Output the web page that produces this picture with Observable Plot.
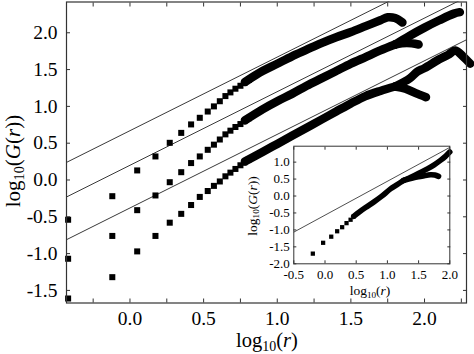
<!DOCTYPE html>
<html>
<head>
<meta charset="utf-8">
<script src="https://cdn.jsdelivr.net/npm/d3@7"></script>
<script src="https://cdn.jsdelivr.net/npm/@observablehq/plot@0.6"></script>
<style>
  html, body { margin: 0; padding: 0; background: white; }
  #wrap { position: relative; width: 474px; height: 354px; }
  #wrap svg { position: absolute; }
</style>
</head>
<body>
<div id="wrap"></div>
<script>
// ---------- main panel data ----------
const discreteX = [-0.42, -0.12, 0.049, 0.173, 0.27, 0.348, 0.415, 0.474, 0.528, 0.57, 0.61, 0.648, 0.682, 0.716, 0.75, 0.777, 0.807];
const discreteTop = [-0.54, -0.22, 0.13, 0.32, 0.505, 0.64, 0.755, 0.845, 0.93, 1.0, 1.07, 1.14, 1.19, 1.24, 1.28, 1.32, 1.36];
const discreteMid = [-1.07, -0.76, -0.41, -0.21, -0.03, 0.106, 0.23, 0.32, 0.41, 0.48, 0.55, 0.62, 0.67, 0.72, 0.76, 0.80, 0.84];
const discreteBot = [-1.61, -1.32, -0.97, -0.76, -0.58, -0.46, -0.34, -0.23, -0.15, -0.08, -0.02, 0.05, 0.10, 0.15, 0.20, 0.24, 0.28];

const topBandX = [0.78, 0.9, 1.0, 1.1, 1.2, 1.3, 1.4, 1.5, 1.6, 1.7, 1.75, 1.8, 1.85];
const topBandY = [1.33, 1.48, 1.58, 1.68, 1.77, 1.86, 1.94, 2.01, 2.09, 2.17, 2.21, 2.20, 2.14];

const midBandX = [0.78, 0.9, 1.0, 1.1, 1.2, 1.3, 1.4, 1.5, 1.6, 1.7, 1.8];
const midBandY = [0.81, 0.96, 1.07, 1.17, 1.28, 1.38, 1.48, 1.58, 1.67, 1.76, 1.84];
const midUpperX = [1.8, 1.9, 2.0, 2.1, 2.2, 2.24];
const midUpperY = [1.84, 1.96, 2.07, 2.17, 2.26, 2.28];
const midLowerX = [1.8, 1.88, 1.96];
const midLowerY = [1.84, 1.86, 1.84];

const botBandX = [0.78, 0.9, 1.0, 1.1, 1.2, 1.3, 1.4, 1.5, 1.6, 1.7, 1.8];
const botBandY = [0.25, 0.38, 0.49, 0.60, 0.71, 0.82, 0.93, 1.04, 1.14, 1.21, 1.27];
const botUpperX = [1.8, 1.9, 1.95, 2.0, 2.1, 2.16, 2.21, 2.26, 2.31];
const botUpperY = [1.27, 1.38, 1.47, 1.52, 1.64, 1.70, 1.76, 1.68, 1.58];
const botLowerX = [1.8, 1.87, 1.94, 2.01];
const botLowerY = [1.27, 1.24, 1.18, 1.125];

// reference lines (end points)
const refLineX = [-0.45, 2.3];
const refLineTop = [0.22, 2.97];
const refLineMid = [-0.25, 2.50];
const refLineBot = [-0.83, 1.92];

const mainXTickLabels = [0.0, 0.5, 1.0, 1.5, 2.0];
const mainXTicks = [-0.25, 0.0, 0.25, 0.5, 0.75, 1.0, 1.25, 1.5, 1.75, 2.0, 2.25];
const mainYTickLabels = [-1.5, -1.0, -0.5, 0.0, 0.5, 1.0, 1.5, 2.0];

// ---------- inset data ----------
const insetDotX = [-0.195, -0.03, 0.10, 0.195, 0.275, 0.345, 0.41, 0.46];
const insetDotY = [-1.70, -1.38, -1.20, -1.04, -0.92, -0.80, -0.70, -0.60];
const insetBandX = [0.46, 0.55, 0.65, 0.78, 0.9, 1.05, 1.15, 1.26];
const insetBandY = [-0.60, -0.47, -0.34, -0.18, -0.02, 0.21, 0.33, 0.46];
const insetUpperX = [1.26, 1.4, 1.52, 1.64, 1.75, 1.85, 1.93, 2.0];
const insetUpperY = [0.46, 0.58, 0.69, 0.80, 0.92, 1.05, 1.17, 1.30];
const insetLowerX = [1.26, 1.42, 1.55, 1.69, 1.76, 1.82];
const insetLowerY = [0.46, 0.54, 0.58, 0.63, 0.62, 0.58];
const insetRefX = [-0.5, 2.0];
const insetRefY = [-1.065, 1.435];
const insetXTickLabels = [-0.5, 0.0, 0.5, 1.0, 1.5, 2.0];
const insetYTickLabels = [-2.0, -1.5, -1.0, -0.5, 0.0, 0.5, 1.0];

// ---------- helpers ----------
const zip = (xs, ys, extra = {}) => xs.map((x, i) => ({x, y: ys[i], ...extra}));
const fmt = d => d.toFixed(1);
const FONT = "Liberation Serif";

const discrete = [
  ...zip(discreteX, discreteTop),
  ...zip(discreteX, discreteMid),
  ...zip(discreteX, discreteBot)
];
const bands = [
  ...zip(topBandX, topBandY, {s: "top"}),
  ...zip(midBandX, midBandY, {s: "mid"}),
  ...zip(midUpperX, midUpperY, {s: "midU"}),
  ...zip(midLowerX, midLowerY, {s: "midL"}),
  ...zip(botBandX, botBandY, {s: "bot"}),
  ...zip(botUpperX, botUpperY, {s: "botU"}),
  ...zip(botLowerX, botLowerY, {s: "botL"})
];
const refs = [
  ...zip(refLineX, refLineTop, {s: "t"}),
  ...zip(refLineX, refLineMid, {s: "m"}),
  ...zip(refLineX, refLineBot, {s: "b"})
];

const main = Plot.plot({
  width: 474, height: 354,
  marginLeft: 66, marginRight: 8, marginTop: 1.5, marginBottom: 51.5,
  style: {fontFamily: FONT, fontSize: "19.5px", background: "transparent", color: "black", overflow: "visible"},
  x: {domain: [-0.431, 2.285]},
  y: {domain: [-1.671, 2.418]},
  marks: [
    Plot.line(refs, {x: "x", y: "y", z: "s", stroke: "#222", strokeWidth: 0.9, clip: true}),
    Plot.line(bands, {x: "x", y: "y", z: "s", stroke: "black", strokeWidth: 8.5, strokeLinecap: "round", strokeLinejoin: "round", curve: "catmull-rom"}),
    Plot.dot(discrete, {x: "x", y: "y", symbol: "square", r: 3.4, fill: "black", stroke: "none"}),
    Plot.frame({stroke: "#333", strokeWidth: 1.2}),
    Plot.axisX(mainXTickLabels, {anchor: "bottom", tickSize: 0, tickPadding: 8, tickFormat: fmt, label: null}),
    Plot.axisX(mainXTicks, {anchor: "bottom", tickSize: -4, tickFormat: () => "", label: null, stroke: "#333"}),
    Plot.axisX(mainXTicks, {anchor: "top", tickSize: -4, tickFormat: () => "", label: null, stroke: "#333"}),
    Plot.axisY(mainYTickLabels, {anchor: "left", tickSize: 0, tickPadding: 9, tickFormat: fmt, label: null}),
    Plot.axisY(mainYTickLabels, {anchor: "left", tickSize: -4, tickFormat: () => "", label: null, stroke: "#333"}),
    Plot.axisY(mainYTickLabels, {anchor: "right", tickSize: -4, tickFormat: () => "", label: null, stroke: "#333"})
  ]
});
main.style.left = "0px"; main.style.top = "0px";

const inset = Plot.plot({
  width: 220, height: 160,
  marginLeft: 53.3, marginRight: 10.7, marginTop: 5.7, marginBottom: 36.7,
  style: {fontFamily: FONT, fontSize: "13px", background: "transparent", color: "black", overflow: "visible"},
  x: {domain: [-0.5, 2.0]},
  y: {domain: [-2.0, 1.47]},
  marks: [
    Plot.frame({fill: "white", stroke: "none"}),
    Plot.line(zip(insetRefX, insetRefY), {x: "x", y: "y", stroke: "#222", strokeWidth: 0.8, clip: true}),
    Plot.line([
      ...zip(insetBandX, insetBandY, {s: "a"}),
      ...zip(insetUpperX, insetUpperY, {s: "u"}),
      ...zip(insetLowerX, insetLowerY, {s: "l"})
    ], {x: "x", y: "y", z: "s", stroke: "black", strokeWidth: 5.5, strokeLinecap: "round", strokeLinejoin: "round", curve: "catmull-rom"}),
    Plot.dot(zip(insetDotX, insetDotY), {x: "x", y: "y", symbol: "square", r: 2.4, fill: "black", stroke: "none"}),
    Plot.frame({stroke: "#333", strokeWidth: 1}),
    Plot.axisX(insetXTickLabels, {anchor: "bottom", tickSize: 0, tickPadding: 6, tickFormat: fmt, label: null}),
    Plot.axisX(insetXTickLabels, {anchor: "bottom", tickSize: -3, tickFormat: () => "", label: null, stroke: "#333"}),
    Plot.axisX(insetXTickLabels, {anchor: "top", tickSize: -3, tickFormat: () => "", label: null, stroke: "#333"}),
    Plot.axisY(insetYTickLabels, {anchor: "left", tickSize: 0, tickPadding: 4, tickFormat: fmt, label: null}),
    Plot.axisY(insetYTickLabels, {anchor: "left", tickSize: -3, tickFormat: () => "", label: null, stroke: "#333"}),
    Plot.axisY(insetYTickLabels, {anchor: "right", tickSize: -3, tickFormat: () => "", label: null, stroke: "#333"})
  ]
});
inset.style.left = "240px"; inset.style.top = "140px";

const wrap = document.getElementById("wrap");
wrap.appendChild(main);
wrap.appendChild(inset);

// ---------- rich text labels ----------
function richLabel(svg, {x, y, rotate = 0, size, parts}) {
  const t = d3.select(svg).append("text")
    .attr("transform", `translate(${x},${y}) rotate(${rotate})`)
    .attr("text-anchor", "middle")
    .attr("font-family", FONT)
    .attr("font-size", size)
    .attr("fill", "black");
  const shift = size * 0.2;
  parts.forEach(([txt, kind]) => {
    const ts = t.append("tspan").text(txt);
    if (kind === "i") ts.attr("font-style", "italic");
    if (kind === "sub") ts.attr("font-size", size * 0.68).attr("dy", shift);
    if (kind === "after") ts.attr("dy", -shift);
  });
}
const gLabel = [["log"], ["10", "sub"], ["(", "after"], ["G", "i"], ["("], ["r", "i"], ["))"]];
const rLabel = [["log"], ["10", "sub"], ["(", "after"], ["r", "i"], [")"]];

richLabel(main, {x: 267, y: 347, size: 20.5, parts: rLabel});
richLabel(main, {x: 20, y: 161, rotate: -90, size: 21, parts: gLabel});
richLabel(inset, {x: 130, y: 155, size: 13.5, parts: rLabel});
richLabel(inset, {x: 16.5, y: 66, rotate: -90, size: 13.5, parts: gLabel});
</script>
</body>
</html>
